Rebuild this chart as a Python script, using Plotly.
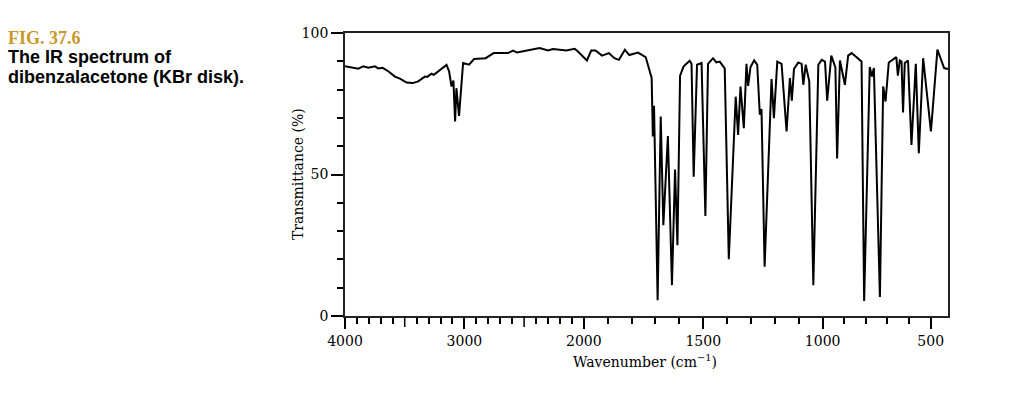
import numpy as np
import plotly.graph_objects as go

# ---- data ----
wavenumber = [4000, 3889, 3847, 3805, 3749, 3722, 3685, 3638, 3582, 3540, 3484, 3434, 3387,
              3331, 3312, 3275, 3256, 3206, 3150, 3128, 3108, 3092, 3078, 3067, 3045, 3011,
              2961, 2919, 2822, 2755, 2635, 2593, 2560, 2370, 2300, 2259, 2147, 2077, 2058,
              1987, 1969, 1951, 1924, 1895, 1872, 1853, 1828, 1810, 1773, 1741, 1727, 1716,
              1711, 1706, 1691, 1678, 1667, 1648, 1631, 1618, 1608, 1597, 1582, 1557, 1549,
              1540, 1526, 1507, 1491, 1480, 1459, 1445, 1431, 1410, 1393, 1364, 1354, 1344,
              1330, 1319, 1312, 1302, 1287, 1274, 1263, 1256, 1243, 1214, 1204, 1190, 1172,
              1151, 1137, 1129, 1120, 1102, 1088, 1081, 1071, 1056, 1039, 1018, 1004, 989,
              979, 960, 941, 933, 920, 897, 882, 866, 820, 808, 782, 772, 763, 735, 720, 709,
              694, 659, 652, 643, 635, 628, 620, 605, 589, 569, 555, 535, 499, 469, 438, 420]
transmittance = [88.3, 87.4, 88.2, 87.7, 88.2, 87.5, 87.7, 86.5, 84.6, 83.9, 82.5, 82.3, 82.9,
                 84.6, 84.5, 85.6, 85.2, 87.0, 88.7, 86.4, 81.1, 83.2, 68.7, 80.5, 70.7, 89.4,
                 88.8, 90.8, 91.1, 92.9, 92.9, 93.8, 93.1, 94.7, 93.8, 94.3, 93.8, 94.4, 93.8,
                 90.3, 93.8, 93.8, 92.0, 92.9, 91.1, 90.5, 94.1, 92.2, 93.1, 91.5, 87.5, 84.1,
                 63.4, 74.3, 5.6, 70.5, 32.1, 63.6, 10.9, 51.8, 25.0, 84.9, 88.2, 90.2, 89.1,
                 49.2, 88.8, 89.4, 35.3, 89.1, 91.1, 89.6, 89.9, 87.5, 20.1, 77.5, 64.0, 81.1,
                 66.4, 89.1, 81.3, 88.0, 90.3, 88.8, 71.1, 73.1, 17.4, 83.7, 69.9, 89.9, 89.1,
                 65.2, 84.1, 76.1, 87.3, 89.6, 89.1, 81.7, 88.8, 82.9, 10.9, 88.8, 90.5, 89.9,
                 76.1, 92.0, 87.8, 55.7, 90.3, 81.7, 92.0, 92.9, 89.9, 5.3, 88.0, 84.6, 87.6,
                 6.7, 81.1, 75.8, 89.6, 91.5, 84.9, 90.3, 89.9, 71.9, 89.4, 90.3, 60.4, 89.1,
                 57.5, 91.1, 65.2, 94.1, 87.6, 87.3]

labeled_ticks = [4000, 3000, 2000, 1500, 1000, 500]
labeled_text = ["4000", "3000", "2000", "1500", "1000", "500"]
long_unlabeled_ticks = [3500, 2500]
minor_ticks = [w for w in range(3900, 400, -100) if w % 500 != 0]
y_major = [0, 50, 100]
x_end = 420

# ---- piecewise wavenumber scale (scale change at 2000 and 1000 cm-1) ----
SCALE_WN = [400, 1000, 2000, 4000]
SCALE_U = [5086, 4000, 2000, 0]


def to_axis(w):
    return np.interp(np.asarray(w, dtype=float), SCALE_WN, SCALE_U)


x_range = [0, float(to_axis(x_end))]

L, R, T, B = 345, 76, 33, 96
W, H = 1024, 412
pw, ph = W - L - R, H - T - B
MAJOR_LEN = 11

fig = go.Figure()
fig.add_trace(go.Scatter(
    x=to_axis(wavenumber), y=transmittance, mode="lines",
    line=dict(color="black", width=2), hoverinfo="skip", showlegend=False))

axis_font = dict(family="DejaVu Serif", size=14, color="black")

fig.update_layout(
    xaxis=dict(
        range=x_range,
        tickmode="array", tickvals=to_axis(labeled_ticks).tolist(), ticktext=labeled_text,
        ticks="outside", ticklen=MAJOR_LEN, tickwidth=1.5, tickcolor="black",
        minor=dict(tickmode="array", tickvals=to_axis(minor_ticks).tolist(),
                   ticks="outside", ticklen=6, tickwidth=1.5, tickcolor="black",
                   showgrid=False),
        showline=True, linecolor="#222", linewidth=1.8, mirror=True,
        showgrid=False, zeroline=False, tickfont=axis_font),
    yaxis=dict(
        range=[0, 100], tickmode="array", tickvals=y_major,
        ticks="outside", ticklen=12, tickwidth=1.5, tickcolor="black",
        minor=dict(tick0=0, dtick=10, ticks="outside", ticklen=6, tickwidth=1.5,
                   tickcolor="black", showgrid=False),
        showline=True, linecolor="#222", linewidth=1.8, mirror=True,
        showgrid=False, zeroline=False, tickfont=axis_font),
)

# long unlabeled ticks at 3500 and 2500 cm-1 (same length as the labeled ones)
for w in long_unlabeled_ticks:
    xv = float(to_axis(w))
    fig.add_shape(type="line", xref="x", yref="paper", x0=xv, x1=xv,
                  y0=0, y1=-MAJOR_LEN / ph, line=dict(color="black", width=1.5))


def px(x):
    return (x - L) / pw


def py(y):
    return (H - B - y) / ph


fig.add_annotation(text="FIG. 37.6", xref="paper", yref="paper", x=px(6), y=py(38),
                   xanchor="left", yanchor="middle", showarrow=False,
                   font=dict(family="Liberation Serif", size=18, color="#c9972a", weight="bold"))
fig.add_annotation(text="The IR spectrum of", xref="paper", yref="paper", x=px(6), y=py(56.5),
                   xanchor="left", yanchor="middle", showarrow=False,
                   font=dict(family="Liberation Sans", size=18, color="black", weight="bold"))
fig.add_annotation(text="dibenzalacetone (KBr disk).", xref="paper", yref="paper", x=px(6), y=py(76.5),
                   xanchor="left", yanchor="middle", showarrow=False,
                   font=dict(family="Liberation Sans", size=18, color="black", weight="bold"))
fig.add_annotation(text="Transmittance (%)", xref="paper", yref="paper", x=px(298), y=py(174),
                   xanchor="center", yanchor="middle", textangle=-90, showarrow=False,
                   font=axis_font)
fig.add_annotation(text="Wavenumber (cm<sup>−1</sup>)", xref="paper", yref="paper",
                   x=px(645), y=py(361), xanchor="center", yanchor="middle", showarrow=False,
                   font=axis_font)

fig.update_layout(
    width=W, height=H, margin=dict(l=L, r=R, t=T, b=B),
    paper_bgcolor="white", plot_bgcolor="white")

fig.write_html("out.html")
